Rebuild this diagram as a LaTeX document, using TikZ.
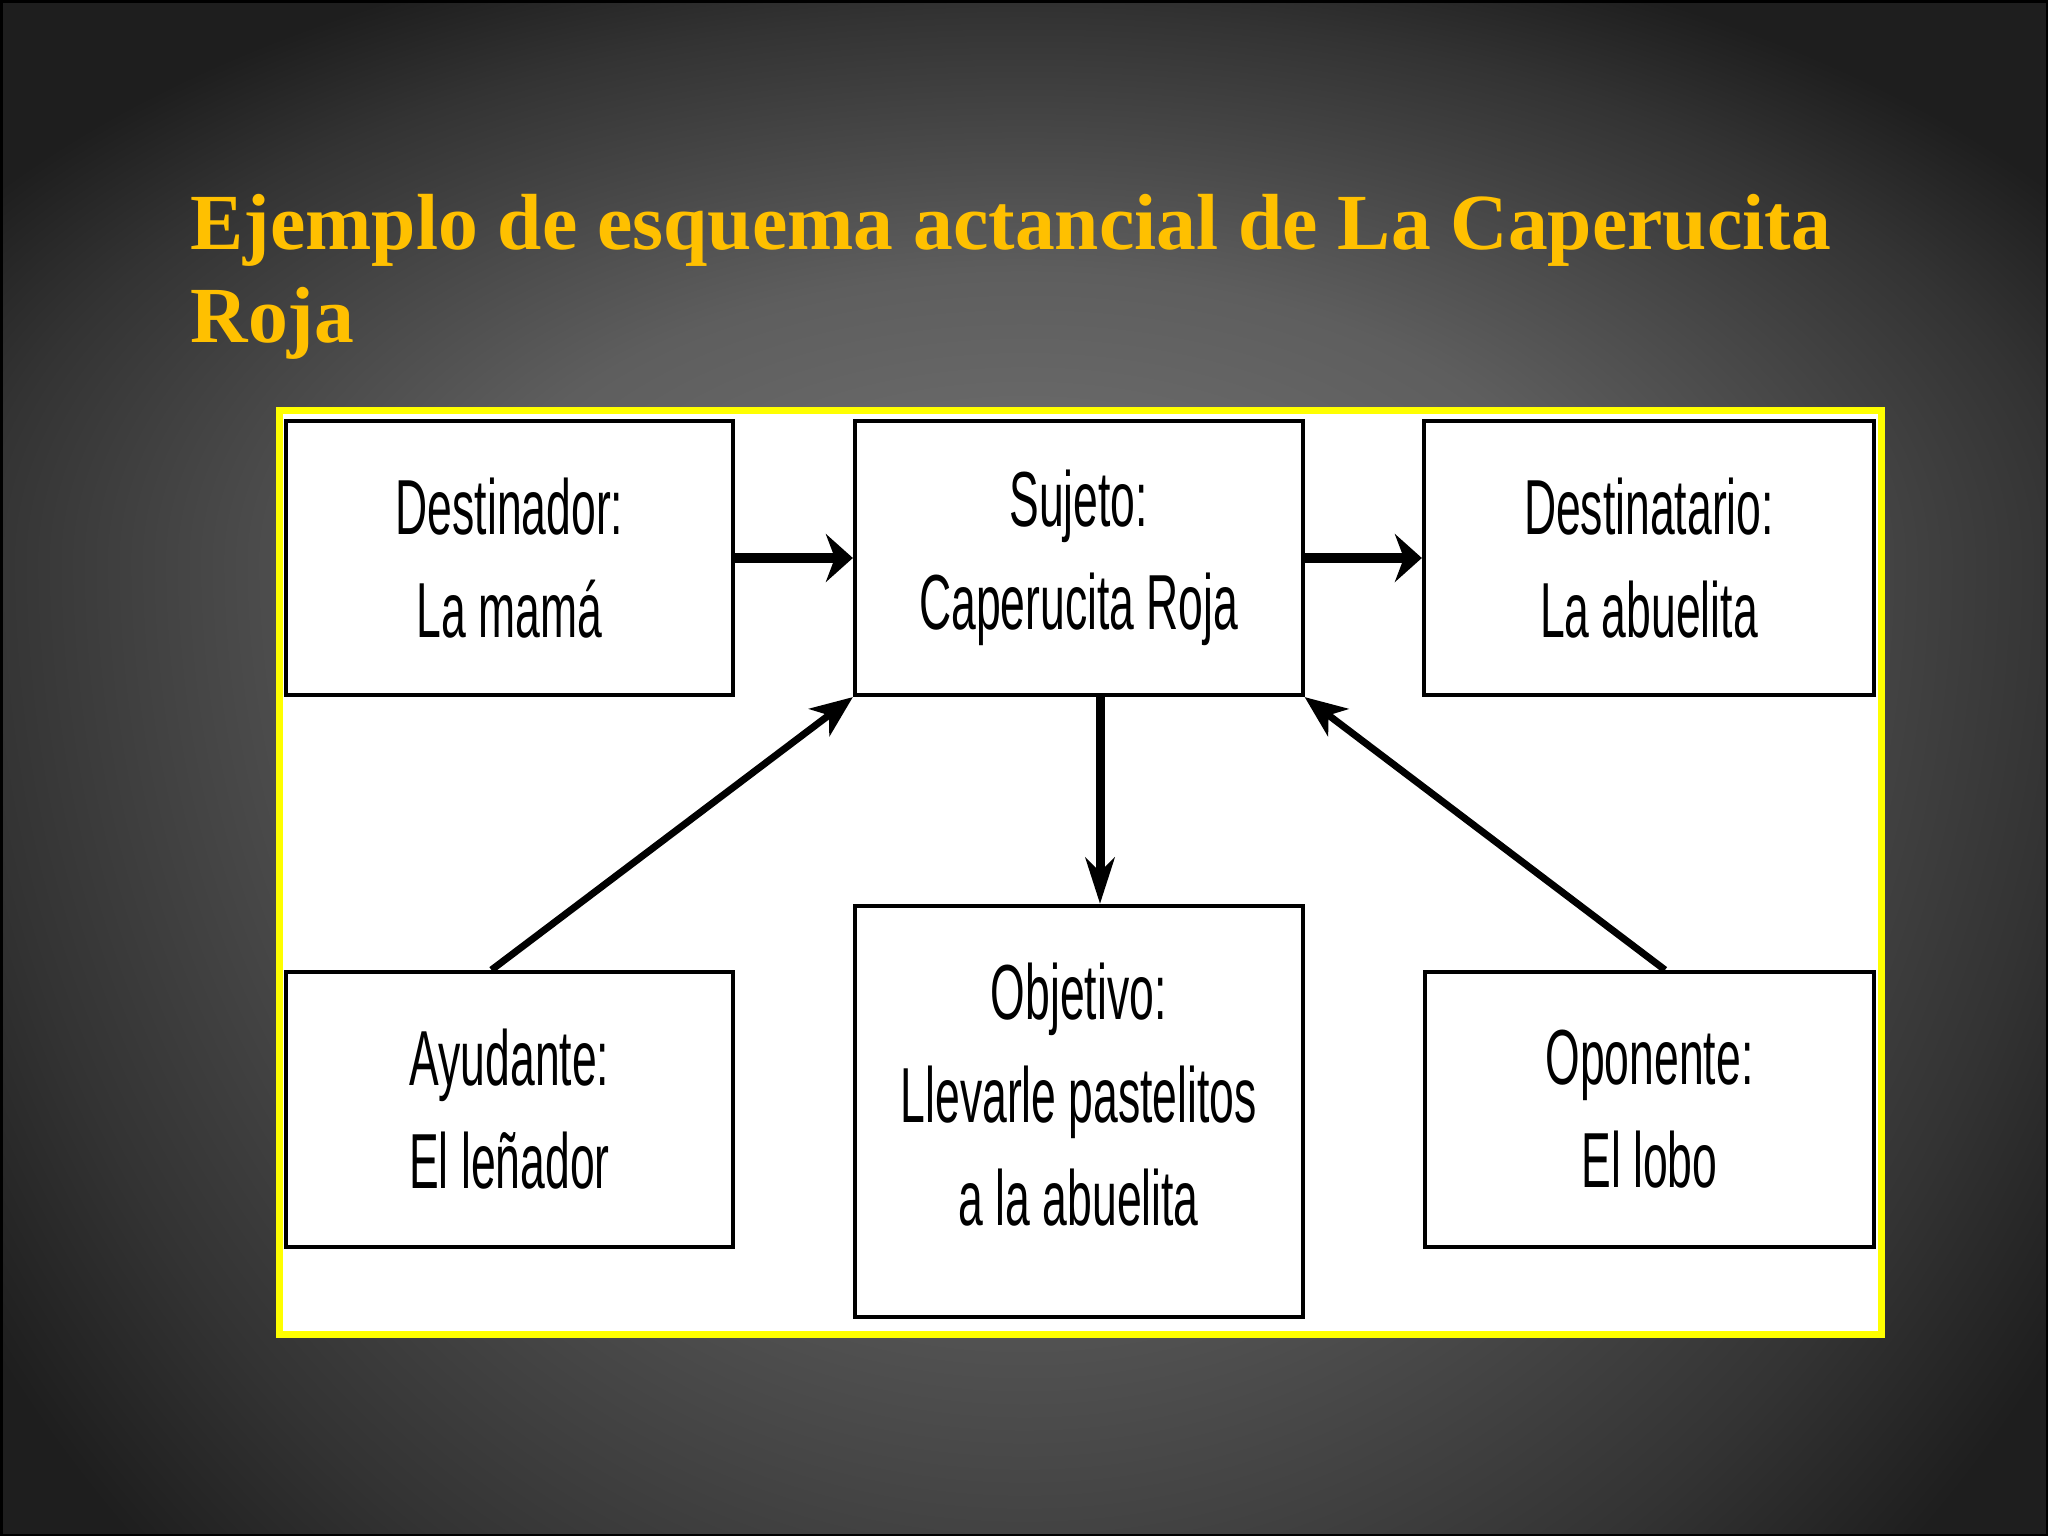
\documentclass[tikz,border=0pt]{standalone}
\usepackage{fontspec}
\setmainfont{Liberation Serif}
\newfontfamily\boxfont[FakeStretch=0.57]{Liberation Sans}
\usetikzlibrary{arrows.meta, calc}
\definecolor{bgedge}{HTML}{1E1E1E}
\definecolor{bgdark}{HTML}{333333}
\definecolor{bgmidb}{HTML}{5E5E5E}
\definecolor{bgmid}{HTML}{727272}
\definecolor{titlegold}{HTML}{FFC000}
\definecolor{frameyellow}{HTML}{FFFF00}
\pgfdeclareradialshading{slideglow}{\pgfpoint{0bp}{0bp}}{color(0bp)=(bgmid); color(11bp)=(bgmidb); color(21bp)=(bgdark); color(25bp)=(bgedge); color(50bp)=(bgedge)}

\begin{document}
\begin{tikzpicture}[x=0.01cm, y=-0.01cm,
    actant/.style={draw, line width=0.04cm, fill=white, align=center, inner sep=0pt,
      font=\boxfont\fontsize{22.2}{29.3}\selectfont},
    harrow/.style={line width=0.1cm, -{Stealth[length=0.27cm, width=0.48cm, inset=0.09cm]}},
    varrow/.style={line width=0.09cm, -{Stealth[length=0.46cm, width=0.29cm, inset=0.14cm]}},
    darrow/.style={line width=0.07cm, -{Stealth[length=0.42cm, width=0.34cm, inset=0.12cm]}}]

      \useasboundingbox (0,0) rectangle (2048,1536);
      \begin{scope}
        \clip (0,0) rectangle (2048,560);
        \shade[shading=slideglow] (-226,-90) rectangle (2274,1210);
      \end{scope}
      \begin{scope}
        \clip (0,560) rectangle (2048,1536);
        \shade[shading=slideglow] (-226,-840) rectangle (2274,1960);
      \end{scope}
      \draw[black, line width=0.05cm] (0,0) rectangle (2048,1536);

      \node[anchor=base west, inner sep=0pt, align=left, text=titlegold,
        font=\bfseries\fontsize{22.63}{26.2}\selectfont] (titulo) at (190,342)
        {Ejemplo de esquema actancial de La Caperucita\\Roja};

      \draw[frameyellow, line width=0.07cm, fill=white] (279,410.5) rectangle (1881.5,1334.5);

      \node[actant, minimum width=4.47cm, minimum height=2.74cm] (destinador) at (509.5,558) {Destinador:\\La mamá};
      \node[actant, minimum width=4.475cm, minimum height=2.74cm] (sujeto) at (1078.75,558) {Sujeto:\\Caperucita Roja};
      \node[actant, minimum width=4.5cm, minimum height=2.74cm] (destinatario) at (1649,558) {Destinatario:\\La abuelita};

      \node[actant, minimum width=4.47cm, minimum height=2.75cm] (ayudante) at (509.5,1109.5) {Ayudante:\\El leñador};
      \node[actant, minimum width=4.475cm, minimum height=4.11cm] (objetivo) at (1078.75,1111.5) {Objetivo:\\Llevarle pastelitos\\a la abuelita\rule[-0.34cm]{0pt}{0.34cm}};
      \node[actant, minimum width=4.49cm, minimum height=2.75cm] (oponente) at (1649.5,1109.5) {Oponente:\\El lobo};

      \draw[harrow] (destinador.east) -- (sujeto.west);
      \draw[harrow] (sujeto.east) -- (destinatario.west);
      \draw[varrow] ([xshift=0.2125cm]sujeto.south) -- ([xshift=0.2125cm]objetivo.north);
      \draw[darrow] ([xshift=-0.18cm]ayudante.north) -- (sujeto.south west);
      \draw[darrow] ([xshift=0.155cm]oponente.north) -- (sujeto.south east);

    \end{tikzpicture}
\end{document}
